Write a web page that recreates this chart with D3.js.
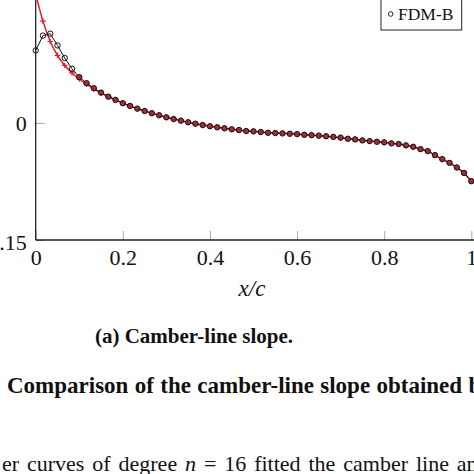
<!DOCTYPE html>
<html>
<head>
<meta charset="utf-8">
<script src="https://cdn.jsdelivr.net/npm/d3@7"></script>
<style>
  body { margin: 0; background: #fff; }
  svg { display: block; }
</style>
</head>
<body>
<div id="chart"></div>
<script>
'use strict';

// chordwise stations x/c (uniform grid, 60 intervals)
const xStations = d3.range(0, 61).map(i => i / 60);

// FDM-B camber-line slope (black circles)
const slopeFdmB = [
  0.093, 0.112, 0.1145, 0.0995, 0.0833, 0.0695, 0.0588, 0.0511, 0.0447, 0.039,
  0.0338, 0.0296, 0.0254, 0.0219, 0.0184, 0.0154, 0.0125, 0.0099, 0.0073, 0.0051,
  0.003, 0.0009, -0.0009, -0.0026, -0.0042, -0.0055, -0.0068, -0.0081, -0.009, -0.0103,
  -0.0107, -0.0116, -0.0125, -0.0129, -0.0133, -0.0138, -0.0142, -0.0151, -0.0156, -0.0162,
  -0.017, -0.0178, -0.0188, -0.0202, -0.021, -0.0223, -0.0232, -0.0241, -0.0248, -0.0261,
  -0.027, -0.0287, -0.0305, -0.0335, -0.036, -0.0412, -0.0463, -0.0511, -0.057, -0.064,
  -0.0746
]

// reference slope (red line with + marks), only differs near the leading edge
const slopeRef = [
  0.165, 0.1306, 0.1045, 0.0868, 0.0738, 0.0642, 0.0564, 0.0497, 0.0438, 0.0385,
  0.0337, 0.0296, 0.0254, 0.0219, 0.0184, 0.0154, 0.0125, 0.0099, 0.0073, 0.0051,
  0.003, 0.0009, -0.0009, -0.0026, -0.0042, -0.0055, -0.0068, -0.0081, -0.009, -0.0103,
  -0.0107, -0.0116, -0.0125, -0.0129, -0.0133, -0.0138, -0.0142, -0.0151, -0.0156, -0.0162,
  -0.017, -0.0178, -0.0188, -0.0202, -0.021, -0.0223, -0.0232, -0.0241, -0.0248, -0.0261,
  -0.027, -0.0287, -0.0305, -0.0335, -0.036, -0.0412, -0.0463, -0.0511, -0.057, -0.064,
  -0.0746
]

const xTicks = [0, 0.2, 0.4, 0.6, 0.8, 1]
const yTicks = [-0.15, 0]
const legendLabels = ['FDM-B']

const serif = '"Liberation Serif", "Times New Roman", serif'
const redCol = '#e11d27'

const dims = { width: 474, height: 474, left: 35.7, right: 471.3, bottom: 240 }

const svg = d3.select('#chart').append('svg')
  .attr('width', dims.width)
  .attr('height', dims.height)

// scales
const xScale = d3.scaleLinear()
  .domain([0, 1])
  .range([dims.left, dims.right])
const yScale = d3.scaleLinear()
  .domain([-0.15, 0])
  .range([dims.bottom, 123])

const refData = xStations.map((x, i) => ({ x: x, y: slopeRef[i] }))
const fdmData = xStations.map((x, i) => ({ x: x, y: slopeFdmB[i], overlap: Math.abs(slopeFdmB[i] - slopeRef[i]) < 0.004 }))

// axes (ticks pointing inward, grey)
const xAxis = d3.axisBottom(xScale)
  .tickValues(xTicks)
  .tickSize(-9)
  .tickPadding(9.5)
  .tickFormat(d => d3.format('')(d))
const xAxisG = svg.append('g')
  .attr('transform', `translate(0,${dims.bottom})`)
  .call(xAxis)

const yAxis = d3.axisLeft(yScale)
  .tickValues(yTicks)
  .tickSize(-9)
  .tickPadding(9)
  .tickFormat(d => d === 0 ? '0' : '\u22120.15')
const yAxisG = svg.append('g')
  .attr('transform', `translate(${dims.left},0)`)
  .call(yAxis)

;[xAxisG, yAxisG].forEach(g => {
  g.select('.domain').remove()
  g.selectAll('.tick line').attr('stroke', '#a8a8a8').attr('stroke-width', 1)
  g.selectAll('.tick text')
    .attr('font-family', serif)
    .attr('font-size', 22)
    .attr('fill', '#111')
})
yAxisG.selectAll('.tick text').attr('dy', (d) => d === 0 ? '0.32em' : '0.45em')

// axis lines
svg.append('line')
  .attr('x1', dims.left).attr('x2', dims.left)
  .attr('y1', 0).attr('y2', dims.bottom)
  .attr('stroke', '#222').attr('stroke-width', 1.3)
svg.append('line')
  .attr('x1', dims.left).attr('x2', dims.width)
  .attr('y1', dims.bottom).attr('y2', dims.bottom)
  .attr('stroke', '#222').attr('stroke-width', 1.3)

// red reference line with + marks
const plot_g = svg.append('g')
const line_smooth = d3.line()
  .x(d => xScale(d.x))
  .y(d => yScale(d.y))
  .curve(d3.curveMonotoneX)
plot_g.append('path')
  .datum(refData)
  .attr('d', line_smooth)
  .attr('fill', 'none')
  .attr('stroke', redCol)
  .attr('stroke-width', 1.5)
plot_g.append('g')
  .selectAll('path')
  .data(refData)
  .join('path')
  .attr('d', d => {
    const cx = xScale(d.x), cy = yScale(d.y), s = 2.8
    return `M${cx - s},${cy}H${cx + s}M${cx},${cy - s}V${cy + s}`
  })
  .attr('stroke', redCol)
  .attr('stroke-width', 1.2)

// FDM-B line with circles (red marks show through where they overlap)
const line_lin = d3.line()
  .x(d => xScale(d.x))
  .y(d => yScale(d.y))
plot_g.append('path')
  .datum(fdmData)
  .attr('d', line_lin)
  .attr('fill', 'none')
  .attr('stroke', '#111')
  .attr('stroke-width', 1)
plot_g.append('g')
  .selectAll('circle')
  .data(fdmData)
  .join('circle')
  .attr('cx', d => xScale(d.x))
  .attr('cy', d => yScale(d.y))
  .attr('r', 2.7)
  .attr('fill', d => d.overlap ? '#a52a3a' : 'none')
  .attr('stroke', '#111')
  .attr('stroke-width', 1)

// legend (top part cropped off)
const legend_g = svg.append('g')
legend_g.append('rect')
  .attr('x', 381).attr('y', -30)
  .attr('width', 80.7).attr('height', 60)
  .attr('fill', '#fff')
  .attr('stroke', '#222')
  .attr('stroke-width', 1)
legend_g.append('circle')
  .attr('cx', 390.7).attr('cy', 14)
  .attr('r', 2.3)
  .attr('fill', 'none')
  .attr('stroke', '#111')
  .attr('stroke-width', 0.9)
legend_g.append('text')
  .attr('x', 398).attr('y', 19.5)
  .attr('font-family', serif)
  .attr('font-size', 17.5)
  .attr('fill', '#111')
  .text(legendLabels[0])

// axis title
svg.append('text')
  .attr('x', 252).attr('y', 296)
  .attr('text-anchor', 'middle')
  .attr('font-family', serif)
  .attr('font-style', 'italic')
  .attr('font-size', 23)
  .attr('fill', '#111')
  .text('x/c')

// captions
svg.append('text')
  .attr('x', 194).attr('y', 342.5)
  .attr('text-anchor', 'middle')
  .attr('font-family', serif)
  .attr('font-weight', 'bold')
  .attr('font-size', 21)
  .attr('fill', '#111')
  .text('(a) Camber-line slope.')

svg.append('text')
  .attr('x', 7).attr('y', 393)
  .attr('font-family', serif)
  .attr('font-weight', 'bold')
  .attr('font-size', 23)
  .attr('word-spacing', 0.6)
  .attr('fill', '#111')
  .text('Comparison of the camber-line slope obtained by')

svg.append('text')
  .attr('x', 2).attr('y', 471)
  .attr('font-family', serif)
  .attr('font-size', 22)
  .attr('word-spacing', 2.4)
  .attr('fill', '#111')
  .text('er curves of degree ')
  .append('tspan').attr('font-style', 'italic').text('n')
  .select(function(){ return this.parentNode })
  .append('tspan').text(' = 16 fitted the camber line and')
</script>
</body>
</html>
